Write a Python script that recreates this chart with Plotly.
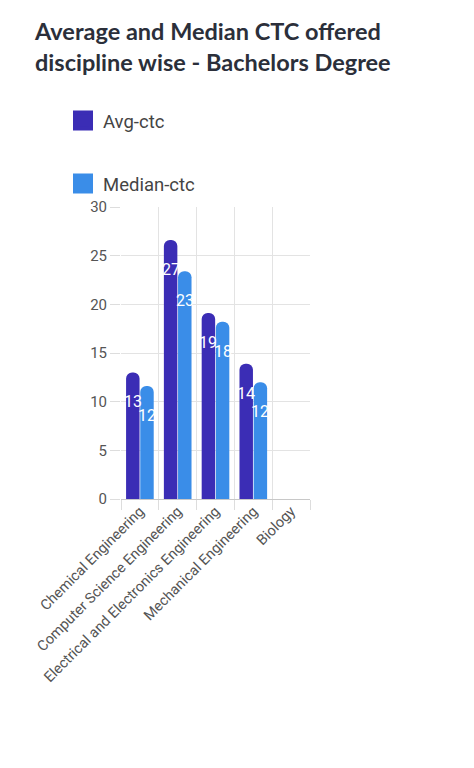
import plotly.graph_objects as go

# data
disciplines = [
    "Chemical Engineering",
    "Computer Science Engineering",
    "Electrical and Electronics Engineering",
    "Mechanical Engineering",
    "Biology",
]
avg_ctc = [13.0, 26.6, 19.1, 13.9, None]
median_ctc = [11.6, 23.4, 18.2, 12.0, None]

AVG_COLOR = "#3B2DB5"
MEDIAN_COLOR = "#3A8DE8"
GREY = "#555555"

# the page puts the figure 8px in from the top-left corner
W, H = 466, 760
PLOT_W = 189
BARGAP = 0.25
# pixel offset of each bar's centre from its category centre
BAR_SHIFT = PLOT_W / len(disciplines) * (1 - BARGAP) / 4


def bar_trace(name, values, color):
    return go.Bar(
        x=disciplines,
        y=values,
        name=name,
        showlegend=False,
        marker=dict(color=color, cornerradius="50%", line=dict(width=0)),
        hoverinfo="x+y",
    )


def legend_trace(name, color, group):
    # dummy trace so the legend gets a bigger square than the bar icon
    return go.Scatter(
        x=[None],
        y=[None],
        mode="markers",
        name=name,
        legendgroup=group,
        marker=dict(symbol="square", size=20, color=color, line=dict(width=4, color=color)),
    )


def value_labels(values, xshift):
    labels = []
    for cat, v in zip(disciplines, values):
        if v is None:
            continue
        labels.append(
            dict(
                x=cat,
                y=v,
                text=f"{v:.0f}",
                showarrow=False,
                xshift=xshift,
                yshift=-18,
                yanchor="top",
                font=dict(family="Roboto", size=16, color="white"),
            )
        )
    return labels


fig = go.Figure()
fig.add_trace(bar_trace("Avg-ctc", avg_ctc, AVG_COLOR))
fig.add_trace(bar_trace("Median-ctc", median_ctc, MEDIAN_COLOR))
fig.add_trace(legend_trace("Avg-ctc", AVG_COLOR, "a"))
fig.add_trace(legend_trace("Median-ctc", MEDIAN_COLOR, "b"))

fig.update_layout(
    width=W,
    height=H,
    paper_bgcolor="white",
    plot_bgcolor="white",
    margin=dict(l=113, r=W - 113 - PLOT_W, t=199, b=269, autoexpand=False),
    barmode="group",
    bargap=BARGAP,
    bargroupgap=0.05,
    annotations=value_labels(avg_ctc, -BAR_SHIFT) + value_labels(median_ctc, BAR_SHIFT),
    title=dict(
        text="<b>Average and Median CTC offered<br>discipline wise - Bachelors Degree</b>",
        font=dict(family="Lato", size=23.5, color="#2B2F3A"),
        xref="container",
        yref="container",
        x=27 / W,
        xanchor="left",
        y=1 - 32 / H,
        yanchor="top",
    ),
    legend=dict(
        xref="container",
        yref="container",
        x=55 / W,
        xanchor="left",
        y=1 - 94 / H,
        yanchor="top",
        orientation="v",
        traceorder="grouped",
        tracegroupgap=36,
        bgcolor="rgba(0,0,0,0)",
        font=dict(family="Roboto", size=18.5, color="#444444"),
        itemwidth=30,
    ),
    font=dict(family="Roboto", color=GREY),
)

fig.update_xaxes(
    type="category",
    tickson="boundaries",
    showgrid=True,
    gridcolor="#E3E3E3",
    ticks="outside",
    ticklen=10,
    tickcolor="#DDDDDD",
    tickangle=-45,
    tickfont=dict(family="Roboto", size=14.5, color=GREY),
    showline=False,
)
fig.update_yaxes(
    range=[0, 30],
    dtick=5,
    showgrid=True,
    gridcolor="#E3E3E3",
    zeroline=True,
    zerolinecolor="#C8C8C8",
    zerolinewidth=1,
    ticks="outside",
    ticklen=10,
    tickcolor="#DDDDDD",
    tickfont=dict(family="Roboto", size=15, color=GREY),
    showline=False,
)

fig.write_html("out.html")
